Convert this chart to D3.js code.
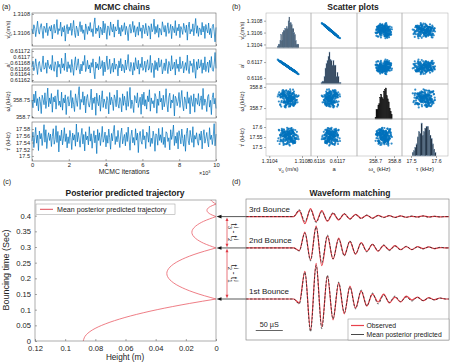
<!DOCTYPE html>
<html>
<head>
<meta charset="utf-8">
<script src="https://cdn.jsdelivr.net/npm/d3@7"></script>
<style>
body { margin: 0; background: #fff; }
text { font-family: "Liberation Sans", Arial, sans-serif; fill: #222; }
</style>
</head>
<body>
<div id="chart"></div>
<script>
const WIDTH = 474;
const HEIGHT = 363;
const BLUE = "#0072BD";

// ---- MCMC samples (deviations from the chain centre) ----
// v0 in 1e-6 m/s, a in 1e-6, omega_s and tau in 1e-3 kHz
const v0Center = 1.31063, aCenter = 0.61167, wsCenter = 358.745, tauCenter = 17.552;
const v0Dev = [
  12, -38, 55, 20, -71, 8, 93, -15, -44, 31, 67, -2, -89, 40, 18, -27, 74, -60, 5, 36,
  -12, 49, -95, 22, 61, -33, 3, 110, -48, 14, -7, 83, -66, 27, -20, 45, -118, 9, 58, -41,
  33, -5, 72, -57, 16, 101, -29, -80, 42, 7, -63, 25, 88, -18, 51, -36, 2, -104, 64, 19,
  -46, 37, -9, 79, -24, 13, -70, 56, 128, -39, 21, -13, 47, -85, 30, 6, -52, 95, -31, 68,
  -3, -99, 43, 24, -58, 85, 10, -21, 62, -76, 35, -11, 4, 107, -43, 26, -65, 50, -16, 15,
  77, -50, 39, -8, -113, 28, 60, -34, 11, 91, -25, 46, -73, 1, 34, -56, 82, -14, 23, -88,
  53, 17, -40, 70, -6, -62, 44, 29, -97, 66, -19, 8, 115, -45, 38, -28, 57, -78, 20, -1,
  -54, 87, 32, -23, 48, -69, 13, 76, -37, -4, 59, -92, 41, 10, -30, 99, -59, 25, -10, 63,
  -82, 36, 4, -47, 71, 18, -26, 52, -108, 30, 84, -42, 7, -17, 65, -61, 28, 122, -35, 45,
  -68, 22, 9, -53, 80, -22, 40, -90, 58, 3, -31, 74, -49, 16, -84, 37, 61, -12, -126, 27
];
const aDev = [
  -5, 15, -18, -6, 23, -4, -31, 7, 14, -12, -22, 2, 33, -13, -8, 10, -27, 19, 0, -11,
  3, -16, 35, -9, -20, 13, 0, -40, 15, -6, 4, -28, 25, -8, 6, -17, 43, -2, -22, 13,
  -10, 3, -24, 21, -7, -34, 9, 30, -16, -1, 23, -10, -29, 5, -19, 14, 1, 35, -21, -8,
  18, -12, 2, -26, 10, -6, 23, -21, -46, 12, -9, 6, -15, 31, -11, -3, 17, -35, 12, -22,
  2, 33, -14, -10, 22, -28, -5, 8, -23, 25, -13, 5, -2, -36, 16, -8, 24, -19, 4, -4,
  -25, 19, -15, 4, 38, -11, -20, 11, -5, -33, 10, -17, 27, 1, -12, 18, -30, 6, -7, 29,
  -17, -7, 15, -23, 3, 20, -16, -9, 35, -24, 8, -1, -42, 17, -14, 11, -18, 26, -6, -1,
  20, -29, -12, 9, -18, 23, -3, -28, 14, 0, -19, 34, -13, -4, 12, -33, 21, -10, 5, -21,
  30, -11, -3, 15, -26, -5, 10, -17, 36, -12, -28, 16, -1, 7, -24, 22, -9, -44, 13, -14,
  22, -9, -2, 20, -27, 9, -15, 30, -21, 0, 12, -24, 18, -7, 31, -14, -20, 3, 45, -10
];
const wsDev = [
  5, -18, 22, -3, 31, -12, 9, -27, 14, 0, -35, 19, 7, -9, 26, -20, 3, 40, -15, 11,
  -6, 24, -31, 13, -1, 17, -22, 8, 35, -11, 2, -16, 28, -25, 10, -4, 20, -38, 6, 15,
  -13, 1, 33, -19, 12, -8, -29, 23, 4, -14, 18, 44, -23, 7, -2, 29, -10, 16, -33, 9,
  21, -7, -16, 3, 37, -24, 11, -5, 14, -40, 25, 0, -12, 19, -28, 6, 32, -17, 8, -3,
  -21, 15, 4, -36, 27, -9, 13, 1, -26, 20, 9, -15, 34, -6, -19, 12, 2, -30, 23, -11,
  16, -2, -25, 30, -14, 7, 42, -20, 5, -8, -32, 18, 10, -4, 26, -17, -1, 13, -37, 22,
  -9, 28, -13, 6, -22, 17, 0, 35, -28, 11, -6, 3, -18, 24, 14, -34, 8, -11, 31, -1,
  10, -24, 19, -15, 2, 38, -7, -30, 13, 25, -19, 5, -3, 21, -42, 16, 9, -12, 1, 27,
  -17, 7, 33, -10, -27, 14, 4, -21, 29, -5, 12, -36, 18, 0, -14, 23, -31, 11, 6, -8,
  24, -13, 3, 17, -23, 39, -11, 8, -2, -29, 15, 21, -16, 4, -38, 12, 26, -7, 10, -20
];
const tauDev = [
  -8, 19, -27, 4, 33, -14, 10, -36, 22, -1, 15, -21, 7, 41, -11, 26, -30, 2, 17, -6,
  13, -24, 6, 29, -17, -3, 38, -12, 21, -40, 9, -7, 25, -19, 1, 32, -9, 14, -28, 5,
  -15, 24, 3, -33, 16, -5, 11, -23, 43, -10, 18, -2, -26, 8, 30, -16, 12, -37, 20, -4,
  7, -19, 35, -8, 14, -29, 1, 23, -13, 10, -45, 27, -6, 17, -21, 4, 36, -11, -1, 19,
  -25, 9, -14, 28, 2, -32, 15, -7, 20, 39, -18, 6, -10, 24, -3, -27, 13, 31, -16, 0,
  12, -22, 18, -9, 34, -2, -35, 7, 25, -13, 3, -20, 29, -5, 16, -42, 10, 21, -8, -17,
  27, -4, 8, -30, 19, 13, -11, 37, -24, 1, -15, 22, 5, -38, 14, 9, -20, 30, -6, 11,
  -12, 33, -18, 4, -27, 20, 16, -9, 2, -34, 26, -3, 12, 40, -21, 7, -14, 18, -31, 23,
  6, -16, 28, 0, -23, 11, -38, 15, 31, -7, -19, 24, 3, -12, 35, -26, 9, -2, 17, -10,
  -20, 14, -5, 22, -31, 8, 26, -14, 1, 18, -9, -25, 32, -3, 10, -18, 5, 44, -22, 13
];

// tick labels
const iterTicks = [0, 2, 4, 6, 8, 10];
const v0ChainTicks = [1.3106, 1.3108];
const aChainTicks = [0.61162, 0.61164, 0.61166, 0.61168, 0.6117, 0.61172];
const wsChainTicks = [358.7, 358.75];
const tauChainTicks = [17.5, 17.52, 17.54, 17.56, 17.58];
const v0RowTicks = [1.3104, 1.3106, 1.3108];
const aRowTicks = [0.6116, 0.6117];
const wsRowTicks = [358.7, 358.8];
const tauRowTicks = [17.5, 17.55, 17.6];
const v0ColTicks = [1.3104, 1.3108];
const aColTicks = [0.6116, 0.6117];
const wsColTicks = [358.7, 358.8];
const tauColTicks = [17.5, 17.6];

// ---- trajectory (time in s, height in m); null splits the bounces ----
const trajTime = [0, 0.02, 0.04, 0.06, 0.08, 0.10, 0.12, 0.134, null,
  0.134, 0.155, 0.175, 0.195, 0.2155, 0.236, 0.256, 0.276, 0.297, null,
  0.297, 0.312, 0.327, 0.347, 0.367, 0.382, 0.397, null,
  0.397, 0.407, 0.417, 0.427, 0.437, null,
  0.437, 0.444, 0.45];
const trajHeight = [0.088, 0.086, 0.0802, 0.0703, 0.0566, 0.039, 0.0174, 0, null,
  0, 0.0146, 0.0245, 0.0305, 0.0326, 0.0305, 0.0245, 0.0146, 0, null,
  0, 0.0082, 0.0134, 0.016, 0.0134, 0.0082, 0, null,
  0, 0.0045, 0.006, 0.0045, 0, null,
  0, 0.0022, 0.0035];
const bounceTimes = [0.134, 0.297, 0.397];
const trajXTicks = [0.12, 0.1, 0.08, 0.06, 0.04, 0.02, 0];
const trajYTicks = [0, 0.05, 0.1, 0.15, 0.2, 0.25, 0.3, 0.35, 0.4];

// ---- waveforms: successive extremes (a.u.), every half period ----
const waveStartUs = 88, waveStepUs = 10.4, waveEndUs = 375;
const bounce1Pred = [0, -15, 81, -99, 102, -90, 72, -60, 51, -42, 36, -30, 27, -21, 18, -15, 12, -10, 9, -8, 6, -6, 5, -5, 3, -3, 3, 0];
const bounce1Obs  = [0, -12, 84, -94, 108, -84, 69, -63, 48, -45, 39, -27, 24, -21, 15, -9, 15, -12, 6, -9, 9, -3, 6, -5, 4, -2, 3, 0];
const bounce2Pred = [0, -9, 45, -39, 63, -45, 39, -33, 27, -24, 21, -18, 15, -12, 12, -9, 9, -8, 6, -6, 5, -5, 3, -3, 3, -2, 2, 0];
const bounce2Obs  = [0, -8, 48, -36, 66, -54, 36, -34, 30, -22, 20, -19, 16, -10, 11, -10, 8, -6, 7, -5, 4, -5, 4, -2, 3, -2, 1, 0];
const bounce3Pred = [0, 21, -15, 21, -18, 15, -12, 12, -9, 9, -8, 6, -6, 5, -5, 3, -3, 3, -3, 2, -2, 2, -2, 2, -2, 1, -1, 0];
const bounce3Obs  = [0, 18, -21, 24, -15, 18, -14, 10, -10, 8, -7, 7, -5, 4, -5, 4, -2, 3, -2, 2, -2, 1, -1, 2, -1, 1, -1, 0];
const bounceNames = ["1st Bounce", "2nd Bounce", "3rd Bounce"];

const v0 = v0Dev.map(d => v0Center + d * 1e-6);
const aVals = aDev.map(d => aCenter + d * 1e-6);
const ws = wsDev.map(d => wsCenter + d * 1e-3);
const tau = tauDev.map(d => tauCenter + d * 1e-3);

let svg = d3.select("#chart")
    .append("svg")
    .attr("width", WIDTH)
    .attr("height", HEIGHT);

svg.append("rect").attr("width", WIDTH).attr("height", HEIGHT).attr("fill", "#fff");

// text with sub/superscripts: parts = [[text, kind, dx]]
function rich(sel, parts, fs) {
    let shift = 0;
    parts.forEach(([s, kind, dx]) => {
        let target = kind === "sub" ? fs * 0.3 : kind === "sup" ? -fs * 0.45 : 0;
        let ts = sel.append("tspan").text(s).attr("dy", target - shift);
        if (kind) ts.style("font-size", (fs * 0.7) + "px");
        if (dx) ts.attr("dx", dx);
        shift = target;
    });
}

function label(x, y, txt, size, opts = {}) {
    return svg.append("text")
        .attr("x", x).attr("y", y)
        .attr("text-anchor", opts.anchor || "start")
        .style("font-size", size + "px")
        .style("font-weight", opts.bold ? "bold" : "normal")
        .text(txt);
}

function styleAxis(g, fs) {
    g.select(".domain").remove();
    g.selectAll(".tick line").attr("stroke", "#555").attr("stroke-width", 0.5);
    g.selectAll(".tick text").style("font-size", fs + "px").attr("fill", "#222")
        .style("font-family", "'Liberation Sans', Arial, sans-serif");
}

// panel letters and titles
label(2, 9, "(a)", 7);
label(232, 9, "(b)", 7);
label(3, 184, "(c)", 7);
label(232, 184, "(d)", 7);
label(122, 10, "MCMC chains", 8.5, {anchor: "middle", bold: true});
label(353, 10, "Scatter plots", 8.5, {anchor: "middle", bold: true});
label(125, 196, "Posterior predicted trajectory", 8.5, {anchor: "middle", bold: true});
label(350, 196, "Waveform matching", 8.5, {anchor: "middle", bold: true});

// ================= (a) MCMC chains =================
const chainX = d3.scaleLinear().domain([0, 10]).range([32, 216]);
const chainPanels = [
    {vals: v0, y0: 13, y1: 46, dom: [1.31046, 1.31081], ticks: v0ChainTicks,
     lab: [["v"], ["0", "sub"], ["j", "sup", -2.8], [" (m/s)"]]},
    {vals: aVals, y0: 49, y1: 82, dom: [0.611613, 0.611727], ticks: aChainTicks,
     lab: [["a"], ["j", "sup"]]},
    {vals: ws, y0: 85, y1: 118, dom: [358.697, 358.794], ticks: wsChainTicks,
     lab: [["ω"], ["s", "sub"], ["j", "sup", -2.8], [" (kHz)"]]},
    {vals: tau, y0: 122, y1: 161, dom: [17.485, 17.601], ticks: tauChainTicks,
     lab: [["τ"], ["j", "sup"], [" (kHz)"]]}
];

chainPanels.forEach((p, k) => {
    let y = d3.scaleLinear().domain(p.dom).range([p.y1, p.y0]);
    let n = p.vals.length;
    let line = d3.line()
        .x((d, i) => chainX(i * 10 / (n - 1)))
        .y(d => y(d));
    svg.append("path")
        .datum(p.vals)
        .attr("d", line)
        .attr("fill", "none")
        .attr("stroke", BLUE)
        .attr("stroke-width", 0.85)
        .attr("stroke-opacity", 0.85);

    svg.append("rect")
        .attr("x", 32).attr("y", p.y0)
        .attr("width", 184).attr("height", p.y1 - p.y0)
        .attr("fill", "none").attr("stroke", "#666").attr("stroke-width", 0.6);

    let ya = svg.append("g").attr("transform", "translate(32,0)")
        .call(d3.axisLeft(y).tickValues(p.ticks).tickFormat(d => String(d))
            .tickSizeInner(-2).tickSizeOuter(0).tickPadding(2));
    styleAxis(ya, 5.6);

    let xa = svg.append("g").attr("transform", `translate(0,${p.y1})`)
        .call(d3.axisBottom(chainX).tickValues(iterTicks)
            .tickFormat(k === 3 ? (d => String(d)) : () => "")
            .tickSizeInner(-2).tickSizeOuter(0).tickPadding(1.5));
    styleAxis(xa, 5.8);

    let t = svg.append("text")
        .attr("transform", `translate(10,${(p.y0 + p.y1) / 2}) rotate(-90)`)
        .attr("text-anchor", "middle")
        .style("font-size", "5.8px");
    rich(t, p.lab, 5.8);
});
label(124, 174, "MCMC iterations", 6.8, {anchor: "middle"});
let pw = svg.append("text").attr("x", 199).attr("y", 175).style("font-size", "5.5px");
rich(pw, [["×10"], ["3", "sup"]], 5.5);

// ================= (b) Scatter plots =================
const params = [v0, aVals, ws, tau];
const colEdges = [266, 311, 357, 402, 448];
const rowEdges = [13, 48, 84, 119, 156];
const colDom = [[1.31036, 1.31091], [0.61157, 0.6118], [358.605, 358.842], [17.464, 17.648]];
const rowDom = [[1.31034, 1.31093], [0.611563, 0.611788], [358.648, 358.814], [17.455, 17.64]];
const rowTicks = [v0RowTicks, aRowTicks, wsRowTicks, tauRowTicks];
const colTicks = [v0ColTicks, aColTicks, wsColTicks, tauColTicks];
const rowLabels = [
    [["v"], ["0", "sub"], ["j", "sup", -2.8], [" (m/s)"]],
    [["a"], ["j", "sup"]],
    [["ω"], ["s", "sub"], ["j", "sup", -2.8], [" (kHz)"]],
    [["τ"], ["j", "sup"], [" (kHz)"]]
];
const colLabels = [
    [["v"], ["0", "sub"], [" (m/s)"]],
    [["a"]],
    [["ω"], ["s", "sub"], [" (kHz)"]],
    [["τ"], [" (kHz)"]]
];

const colScales = colDom.map((d, j) => d3.scaleLinear().domain(d).range([colEdges[j], colEdges[j + 1]]));
const rowScales = rowDom.map((d, i) => d3.scaleLinear().domain(d).range([rowEdges[i + 1], rowEdges[i]]));

for (let i = 0; i < 4; i++) {
    for (let j = 0; j < 4; j++) {
        let x = colScales[j];
        if (i === j) {
            let bins = d3.bin().domain(colDom[j]).thresholds(x.ticks(40))(params[j]);
            let hy = d3.scaleLinear()
                .domain([0, d3.max(bins, b => b.length)])
                .range([rowEdges[i + 1], rowEdges[i] + 4]);
            svg.append("g").selectAll("rect")
                .data(bins.filter(b => b.length > 0))
                .enter()
                .append("rect")
                .attr("x", b => x(b.x0))
                .attr("y", b => hy(b.length))
                .attr("width", b => Math.max(0.5, x(b.x1) - x(b.x0)))
                .attr("height", b => hy(0) - hy(b.length))
                .attr("fill", i === 2 ? "#050505" : "#172635")
                .attr("stroke", i === 2 ? "#111" : "#6d8cab")
                .attr("stroke-width", 0.35);
        } else {
            let y = rowScales[i];
            let pts = params[j].map((v, k) => [v, params[i][k]]);
            svg.append("g").selectAll("circle")
                .data(pts)
                .enter()
                .append("circle")
                .attr("cx", d => x(d[0]))
                .attr("cy", d => y(d[1]))
                .attr("r", 1.1)
                .attr("fill", BLUE)
                .attr("fill-opacity", 0.8);
        }
        svg.append("rect")
            .attr("x", colEdges[j]).attr("y", rowEdges[i])
            .attr("width", colEdges[j + 1] - colEdges[j])
            .attr("height", rowEdges[i + 1] - rowEdges[i])
            .attr("fill", "none").attr("stroke", "#aaa").attr("stroke-width", 0.5);
    }
    let ya = svg.append("g").attr("transform", `translate(${colEdges[0]},0)`)
        .call(d3.axisLeft(rowScales[i]).tickValues(rowTicks[i]).tickFormat(d => String(d))
            .tickSizeInner(2).tickSizeOuter(0).tickPadding(1.5));
    styleAxis(ya, 5.2);
    let t = svg.append("text")
        .attr("transform", `translate(244,${(rowEdges[i] + rowEdges[i + 1]) / 2}) rotate(-90)`)
        .attr("text-anchor", "middle")
        .style("font-size", "5.8px");
    rich(t, rowLabels[i], 5.8);
}
for (let j = 0; j < 4; j++) {
    let xa = svg.append("g").attr("transform", `translate(0,${rowEdges[4]})`)
        .call(d3.axisBottom(colScales[j]).tickValues(colTicks[j]).tickFormat(d => String(d))
            .tickSizeInner(2).tickSizeOuter(0).tickPadding(1.5));
    styleAxis(xa, 5.2);
    let t = svg.append("text")
        .attr("x", (colEdges[j] + colEdges[j + 1]) / 2).attr("y", 171)
        .attr("text-anchor", "middle")
        .style("font-size", "5.8px");
    rich(t, colLabels[j], 5.8);
}

// ================= (c) Trajectory =================
const tx = d3.scaleLinear().domain([0.12, 0]).range([35, 216]);
const ty = d3.scaleLinear().domain([0, 0.45]).range([341, 200]);
const trajPts = trajTime.map((t, i) => t === null ? null : [trajHeight[i], t]);
const trajLine = d3.line()
    .defined(d => d !== null)
    .x(d => tx(d[0]))
    .y(d => ty(d[1]))
    .curve(d3.curveMonotoneY);
svg.append("path")
    .datum(trajPts)
    .attr("d", trajLine)
    .attr("fill", "none")
    .attr("stroke", "#ec6f78")
    .attr("stroke-width", 0.9);

svg.append("rect")
    .attr("x", 35).attr("y", 200).attr("width", 181).attr("height", 141)
    .attr("fill", "none").attr("stroke", "#777").attr("stroke-width", 0.6);
let cx = svg.append("g").attr("transform", "translate(0,341)")
    .call(d3.axisBottom(tx).tickValues(trajXTicks).tickFormat(d => String(d))
        .tickSizeInner(-2).tickSizeOuter(0).tickPadding(5));
styleAxis(cx, 7.6);
let cy = svg.append("g").attr("transform", "translate(35,0)")
    .call(d3.axisLeft(ty).tickValues(trajYTicks).tickFormat(d => String(d))
        .tickSizeInner(-2).tickSizeOuter(0).tickPadding(4));
styleAxis(cy, 7.6);
label(125, 360, "Height (m)", 8.2, {anchor: "middle"});
svg.append("text")
    .attr("transform", "translate(9,270) rotate(-90)")
    .attr("text-anchor", "middle")
    .style("font-size", "9px")
    .text("Bouncing time (Sec)");

// legend (c)
svg.append("rect").attr("x", 36).attr("y", 204).attr("width", 139).attr("height", 10.5)
    .attr("fill", "#fff").attr("stroke", "#999").attr("stroke-width", 0.5);
svg.append("line").attr("x1", 40).attr("x2", 53).attr("y1", 209.3).attr("y2", 209.3)
    .attr("stroke", "#e04a55").attr("stroke-width", 1);
label(57, 211.8, "Mean posterior predicted trajectory", 7.1);

// bounce markers between (c) and (d)
bounceTimes.forEach(t => {
    let y = ty(t);
    svg.append("line").attr("x1", 220).attr("x2", 246).attr("y1", y).attr("y2", y)
        .attr("stroke", "#111").attr("stroke-width", 0.7);
    svg.append("path")
        .attr("d", `M216.5,${y} L221.5,${y - 1.8} L221.5,${y + 1.8} Z`)
        .attr("fill", "#111");
});
const gapLabels = [
    [["t"], ["2", "sub"], ["j", "sup", -2.2], [" - t"], ["1", "sub"], ["j", "sup", -2.2]],
    [["t"], ["3", "sub"], ["j", "sup", -2.2], [" - t"], ["2", "sub"], ["j", "sup", -2.2]]
];
for (let k = 0; k < bounceTimes.length - 1; k++) {
    let ya = ty(bounceTimes[k + 1]) + 0.8, yb = ty(bounceTimes[k]) - 0.8;
    svg.append("line").attr("x1", 227).attr("x2", 227).attr("y1", ya + 2).attr("y2", yb - 2)
        .attr("stroke", "#e03a45").attr("stroke-width", 0.7);
    svg.append("path").attr("d", `M227,${ya} L225.5,${ya + 3.5} L228.5,${ya + 3.5} Z`).attr("fill", "#e03a45");
    svg.append("path").attr("d", `M227,${yb} L225.5,${yb - 3.5} L228.5,${yb - 3.5} Z`).attr("fill", "#e03a45");
    let t = svg.append("text")
        .attr("transform", `translate(231,${(ya + yb) / 2}) rotate(90)`)
        .attr("text-anchor", "middle")
        .style("font-size", "8.5px");
    rich(t, gapLabels[k], 8.5);
}

// ================= (d) Waveform matching =================
const wx = d3.scaleLinear().domain([0, waveEndUs]).range([246, 449]);
const wAmp = d3.scaleLinear().domain([-100, 100]).range([33, -33]);
const waves = [[bounce1Obs, bounce1Pred], [bounce2Obs, bounce2Pred], [bounce3Obs, bounce3Pred]];
function wavePts(arr) {
    let pts = [[0, 0]];
    arr.forEach((v, k) => pts.push([waveStartUs + k * waveStepUs, v]));
    pts.push([waveEndUs, 0]);
    return pts;
}
waves.forEach(([obs, pred], k) => {
    let base = ty(bounceTimes[k]);
    let wl = d3.line()
        .x(d => wx(d[0]))
        .y(d => base + wAmp(d[1]))
        .curve(d3.curveMonotoneX);
    svg.append("path").datum(wavePts(obs)).attr("d", wl)
        .attr("fill", "none").attr("stroke", "#e8414b").attr("stroke-width", 1.2);
    svg.append("path").datum(wavePts(pred)).attr("d", wl)
        .attr("fill", "none").attr("stroke", "#1a1a1a").attr("stroke-width", 0.7)
        .attr("stroke-dasharray", "2.5,1.5");
    label(249, base - 5, bounceNames[k], 8);
});
svg.append("rect")
    .attr("x", 246).attr("y", 199).attr("width", 203).attr("height", 141)
    .attr("fill", "none").attr("stroke", "#777").attr("stroke-width", 0.6);

// scale bar
svg.append("line").attr("x1", wx(18)).attr("x2", wx(68)).attr("y1", 330.5).attr("y2", 330.5)
    .attr("stroke", "#222").attr("stroke-width", 0.7);
label(wx(43), 327, "50 µS", 7.2, {anchor: "middle"});

// legend (d)
svg.append("rect").attr("x", 348).attr("y", 319).attr("width", 101).attr("height", 21)
    .attr("fill", "#fff").attr("stroke", "#888").attr("stroke-width", 0.5);
svg.append("line").attr("x1", 351).attr("x2", 364).attr("y1", 325.5).attr("y2", 325.5)
    .attr("stroke", "#e8414b").attr("stroke-width", 1.2);
svg.append("line").attr("x1", 351).attr("x2", 364).attr("y1", 334.5).attr("y2", 334.5)
    .attr("stroke", "#1a1a1a").attr("stroke-width", 0.8);
label(366.5, 328, "Observed", 6.8);
label(366.5, 337, "Mean posterior predicted", 6.8);
</script>
</body>
</html>
